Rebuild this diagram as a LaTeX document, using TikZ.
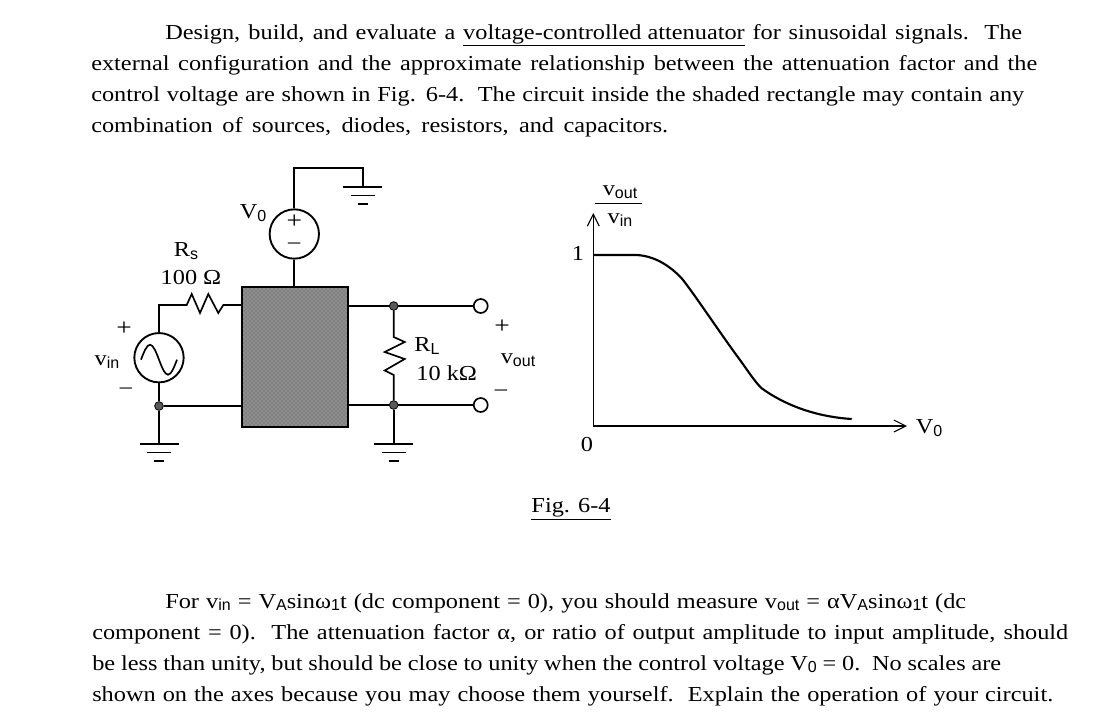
\documentclass[tikz,border=0pt]{standalone}
\usepackage{fontspec}
\setmainfont[FakeStretch=1.14]{Liberation Serif}
\setsansfont{Liberation Sans}
\usepackage{tikz}
\usetikzlibrary{patterns,arrows.meta}
\newcommand{\sbs}[1]{\raisebox{-0.3ex}{\sffamily\fontsize{12}{12}\selectfont #1}}
\tikzset{
    wire/.style={line width=1.25pt},
    srcnode/.style={draw,circle,line width=1.4pt,minimum size=37pt,inner sep=0pt},
    dotnode/.style={draw,circle,fill=black!65,line width=0.6pt,minimum size=6.5pt,inner sep=0pt},
    termnode/.style={draw,circle,fill=white,line width=1.25pt,minimum size=10.5pt,inner sep=0pt},
    shadedbox/.style={draw,line width=1.25pt,preaction={fill=black!50},pattern=crosshatch dots,pattern color=white!75!black,inner sep=0pt},
    lbl/.style={inner sep=0pt,font=\fontsize{16}{18}\selectfont},
    signlbl/.style={inner sep=0pt,font=\fontsize{18}{18}\selectfont},
    textline/.style={inner sep=0pt,anchor=base west,font=\fontsize{16}{18}\selectfont}
}
\newcommand{\gnd}[1]{%
    \draw[line width=1.4pt] (#1) ++(-19.5,0) -- ++(39,0);
    \draw[line width=1.4pt] (#1) ++(-12,8.5) -- ++(24,0);
    \draw[line width=1.4pt] (#1) ++(-5,17) -- ++(10,0);
}
\begin{document}
\begin{tikzpicture}[x=0.75pt,y=-0.75pt]
    \useasboundingbox (0,0) rectangle (1112,725);

    % Upper text
    \node[textline] (upa) at (165,39) {\makebox[642.75pt][s]{Design, build, and evaluate a \underline{voltage-controlled attenuator} for sinusoidal signals.\ \ The}};
    \node[textline] (upb) at (91,70) {\makebox[709.5pt][s]{external configuration and the approximate relationship between the attenuation factor and the}};
    \node[textline] (upc) at (91,101) {\makebox[699.75pt][s]{control voltage are shown in Fig. 6-4.\ \ The circuit inside the shaded rectangle may contain any}};
    \node[textline] (upd) at (91,132) {\makebox[432.75pt][s]{combination of sources, diodes, resistors, and capacitors.}};

    % Shaded box
    \node[shadedbox,minimum width=79.5pt,minimum height=105pt] (attn) at (294.7,356.7) {};

    % Control source
    \node[srcnode] (vosrc) at (294.3,234) {};
    \coordinate (topl) at (294.3,168);
    \coordinate (topr) at (362.7,168);
    \coordinate (gndt) at (362.7,187);
    \draw[wire] (attn.north -| vosrc) -- (vosrc);
    \draw[wire] (vosrc) -- (topl) -- (topr) -- (gndt);
    \gnd{gndt}
    \node[signlbl] (plusv) at (294.3,222) {+};
    \node[lbl] (minusv) at (294.3,246) {--};
    \node[lbl] (volbl) at (253,213) {V\sbs{0}};

    % Input side
    \node[srcnode] (vinsrc) at (159,357.7) {};
    \draw[wire] (vinsrc.center) ++(-18,2) sin ++(9,-15) cos ++(9,15) sin ++(9,15) cos ++(9,-15);
    \coordinate (rsa) at (186.7,305);
    \coordinate (rsb) at (223.3,305);
    \coordinate (incorner) at (159,305);
    \coordinate (gndi) at (159,444);
    \node[dotnode] (inj) at (159,406) {};
    \draw[wire] (vinsrc) -- (incorner) -- (rsa) -- ++(5,-11) -- ++(8.3,19) -- ++(8.3,-19) -- ++(10,19) -- (rsb) -- (rsb -| attn.west);
    \draw[wire] (vinsrc) -- (inj) -- (inj -| attn.west);
    \draw[wire] (inj) -- (gndi);
    \gnd{gndi}
    \node[lbl] (rslbl) at (186,251) {R\sbs{s}};
    \node[lbl] (rsval) at (191,278) {100 Ω};
    \node[signlbl] (plusi) at (124,329) {+};
    \node[lbl] (minusi) at (126,391) {--};
    \node[lbl] (vinlbl) at (107,362) {v\sbs{in}};

    % Output side
    \node[dotnode] (outa) at (393.7,306) {};
    \node[dotnode] (outb) at (393.7,405) {};
    \node[termnode] (terma) at (480.7,306) {};
    \node[termnode] (termb) at (480.7,405) {};
    \coordinate (rla) at (393.7,337);
    \coordinate (rlb) at (393.7,375);
    \coordinate (gndo) at (393.7,444);
    \draw[wire] (outa -| attn.east) -- (outa) -- (terma);
    \draw[wire] (outb -| attn.east) -- (outb) -- (termb);
    \draw[wire] (outa) -- (rla) -- ++(11,5) -- ++(-20,10) -- ++(20,7) -- ++(-20,11.5) -- (rlb) -- (outb);
    \draw[wire] (outb) -- (gndo);
    \gnd{gndo}
    \node[lbl] (rllbl) at (427,346) {R\sbs{L}};
    \node[lbl] (rlval) at (446.7,373) {10 kΩ};
    \node[signlbl] (pluso) at (502,327) {+};
    \node[lbl] (minuso) at (501,393) {--};
    \node[lbl] (voutlbl) at (518,360) {v\sbs{out}};

    % Curve axes
    \coordinate (origin) at (593.3,426);
    \coordinate (ytop) at (593.3,213);
    \coordinate (xend) at (907,426);
    \draw[line width=0.8pt,-{Straight Barb[length=9pt,width=9pt]}] (origin) -- (ytop);
    \draw[line width=0.8pt,-{Straight Barb[length=9pt,width=9pt]}] (origin) -- (xend);
    \draw[line width=1.6pt] (593.3,255) -- (636.7,255)
        .. controls (655,256) and (670,266) .. (681.7,278.3)
        .. controls (695,295) and (720,333) .. (740,360)
        .. controls (748,371) and (755,382) .. (761.7,388.3)
        .. controls (775,398) and (805,416) .. (851.7,419);
    \node[lbl] (frtop) at (620,192) {v\sbs{out}};
    \coordinate (frl) at (595,203.5);
    \coordinate (frr) at (641.7,203.5);
    \draw[line width=1.1pt] (frl) -- (frr);
    \node[lbl] (frbot) at (620,220) {v\sbs{in}};
    \node[lbl] (onelbl) at (578,253) {1};
    \node[lbl] (zerolbl) at (587,445) {0};
    \node[lbl] (xlbl) at (929,428) {V\sbs{0}};
    \node[lbl] (figlbl) at (571,509) {\underline{Fig. 6-4}};

    % Lower text
    \node[textline] (lowa) at (165,608) {\makebox[600.75pt][s]{For v\sbs{in} = V\sbs{A}sinω\sbs{1}t (dc component = 0), you should measure v\sbs{out} = αV\sbs{A}sinω\sbs{1}t (dc}};
    \node[textline] (lowb) at (92,639) {\makebox[732pt][s]{component = 0).\ \ The attenuation factor α, or ratio of output amplitude to input amplitude, should}};
    \node[textline] (lowc) at (92,670) {\makebox[681.75pt][s]{be less than unity, but should be close to unity when the control voltage V\sbs{0} = 0.\ \ No scales are}};
    \node[textline] (lowd) at (92,701) {\makebox[720.75pt][s]{shown on the axes because you may choose them yourself.\ \ Explain the operation of your circuit.}};
\end{tikzpicture}
\end{document}
